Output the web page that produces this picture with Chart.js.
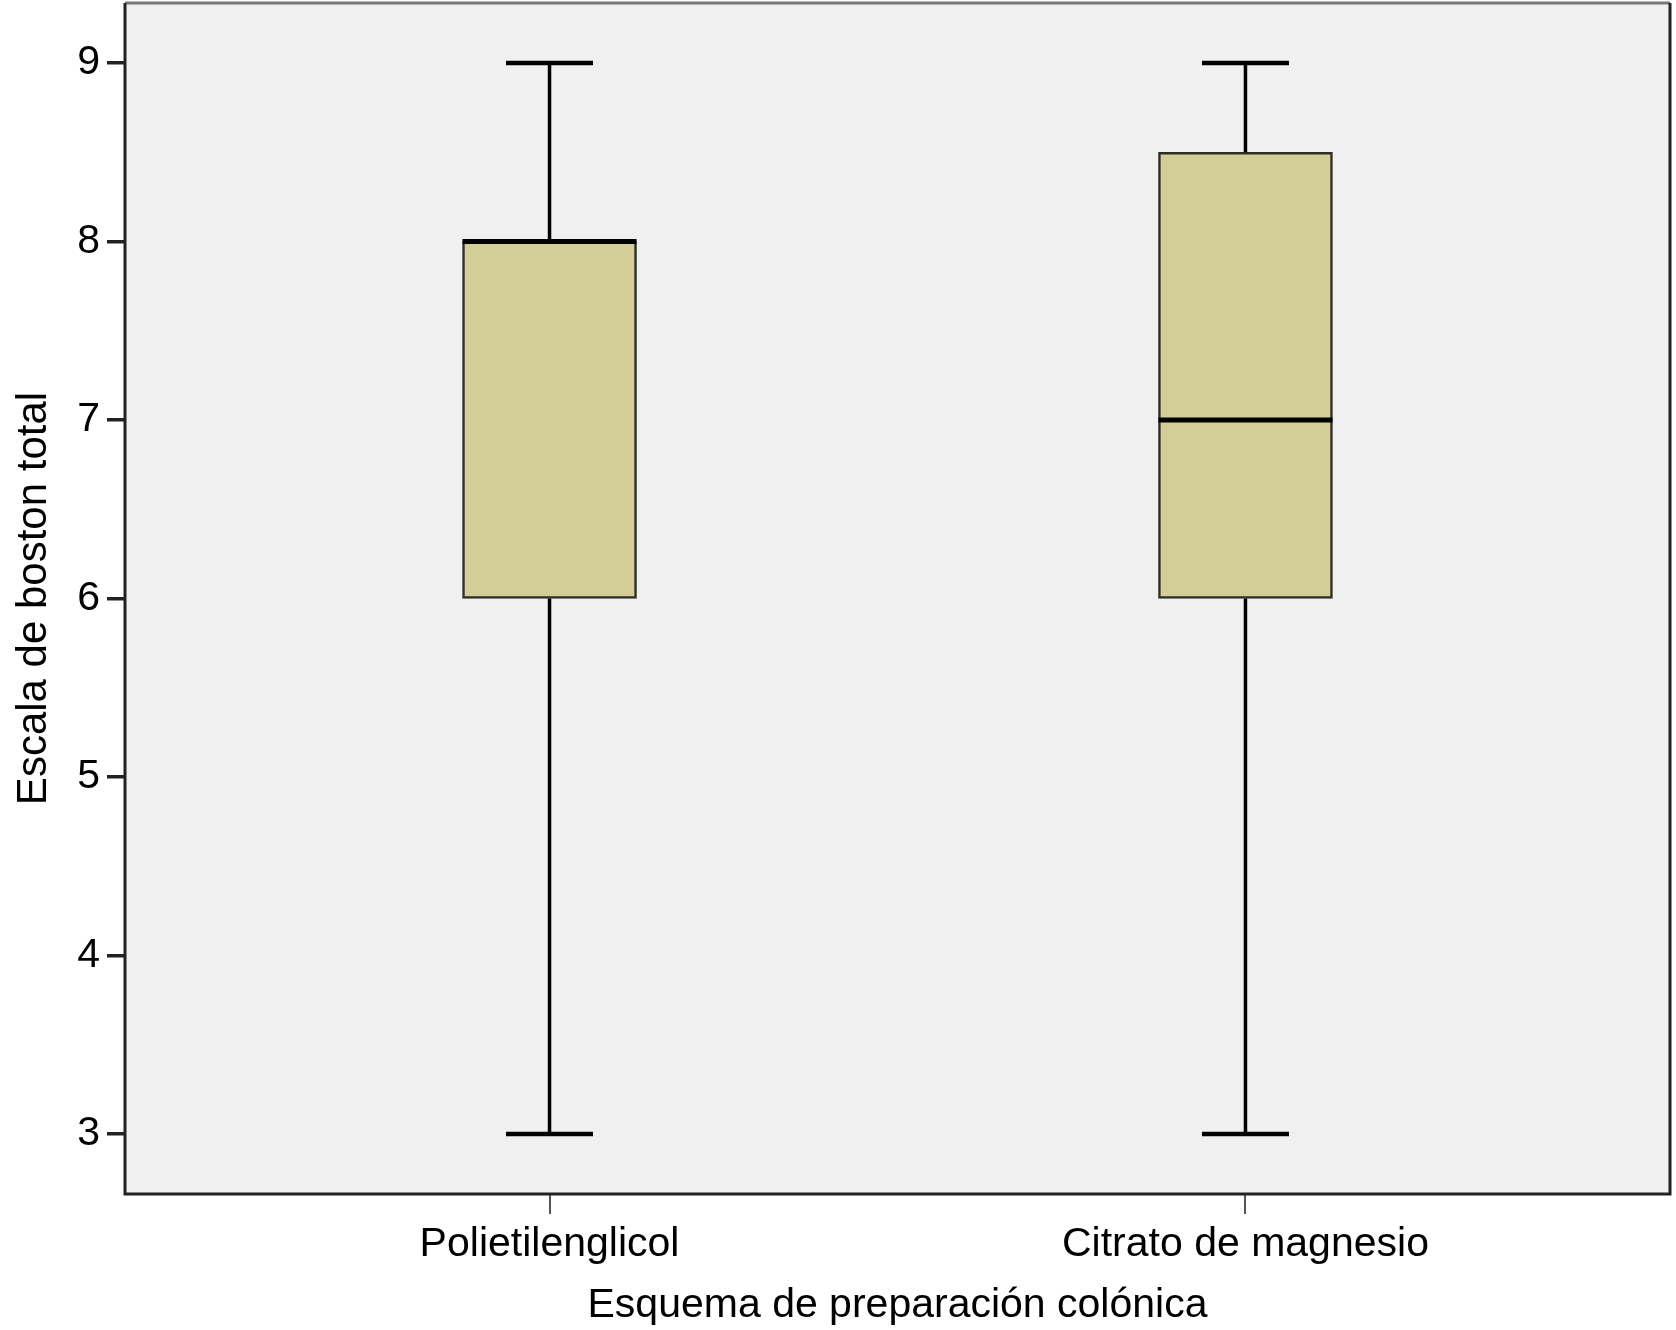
<!DOCTYPE html>
<html>
<head>
<meta charset="utf-8">
<script src="https://cdn.jsdelivr.net/npm/chart.js@4"></script>
<style>
html,body{margin:0;padding:0;background:#fff;}
#c{display:block;}
</style>
</head>
<body>
<canvas id="c" width="1676" height="1330"></canvas>
<script>
const categories = ['Polietilenglicol', 'Citrato de magnesio'];
const positions = [1, 2];
const mins = [3, 3];
const q1s = [6, 6];
const medians = [8, 7];
const q3s = [8, 8.5];
const maxs = [9, 9];
const yTicks = [3, 4, 5, 6, 7, 8, 9];

const FONT = "'Liberation Sans', Arial, Helvetica, sans-serif";

const boxPlugin = {
  id: 'boxExtras',
  beforeDatasetsDraw(chart) {
    const {ctx, chartArea: a} = chart;
    ctx.save();
    ctx.fillStyle = '#f0f0f0';
    ctx.fillRect(a.left, a.top, a.right - a.left, a.bottom - a.top);
    ctx.restore();
  },
  afterDatasetsDraw(chart) {
    const {ctx} = chart;
    const xs = chart.scales.x, ys = chart.scales.y;
    const meta = chart.getDatasetMeta(0);
    ctx.save();
    ctx.strokeStyle = '#000';
    ctx.lineCap = 'butt';
    positions.forEach((p, i) => {
      const cx = xs.getPixelForValue(p);
      const bw = meta.data[i].width;
      const capHalf = bw / 4;
      ctx.lineWidth = 3.5;
      ctx.beginPath();
      ctx.moveTo(cx, ys.getPixelForValue(q3s[i]));
      ctx.lineTo(cx, ys.getPixelForValue(maxs[i]));
      ctx.moveTo(cx, ys.getPixelForValue(q1s[i]));
      ctx.lineTo(cx, ys.getPixelForValue(mins[i]));
      ctx.stroke();
      ctx.lineWidth = 4.5;
      ctx.beginPath();
      ctx.moveTo(cx - capHalf, ys.getPixelForValue(maxs[i]));
      ctx.lineTo(cx + capHalf, ys.getPixelForValue(maxs[i]));
      ctx.moveTo(cx - capHalf, ys.getPixelForValue(mins[i]));
      ctx.lineTo(cx + capHalf, ys.getPixelForValue(mins[i]));
      ctx.stroke();
      ctx.lineWidth = 5;
      ctx.beginPath();
      ctx.moveTo(cx - bw / 2, ys.getPixelForValue(medians[i]));
      ctx.lineTo(cx + bw / 2, ys.getPixelForValue(medians[i]));
      ctx.stroke();
    });
    ctx.restore();
  },
  afterDraw(chart) {
    const {ctx, chartArea: a} = chart;
    ctx.save();
    ctx.strokeStyle = '#777';
    ctx.lineWidth = 3;
    ctx.beginPath();
    ctx.moveTo(a.left, a.top);
    ctx.lineTo(a.right, a.top);
    ctx.stroke();
    ctx.strokeStyle = '#222';
    ctx.lineWidth = 3;
    ctx.beginPath();
    ctx.moveTo(a.right, a.top);
    ctx.lineTo(a.right, a.bottom);
    ctx.lineTo(a.left, a.bottom);
    ctx.lineTo(a.left, a.top);
    ctx.stroke();
    ctx.restore();
  }
};

new Chart(document.getElementById('c'), {
  type: 'bar',
  data: {
    datasets: [{
      data: positions.map((p, i) => ({x: p, y: [q1s[i], q3s[i]]})),
      backgroundColor: '#d3ce98',
      borderColor: '#2e2e26',
      borderWidth: 2.5,
      borderSkipped: false,
      barThickness: 174
    }]
  },
  options: {
    responsive: false,
    devicePixelRatio: 1,
    animation: false,
    layout: {padding: {top: 3, right: 6, left: 0, bottom: 0}},
    plugins: {legend: {display: false}, tooltip: {enabled: false}},
    scales: {
      x: {
        type: 'linear',
        offset: false,
        min: 0.39,
        max: 2.61,
        afterBuildTicks(scale) { scale.ticks = positions.map(v => ({value: v})); },
        afterFit(scale) { scale.height = 136; scale.paddingLeft = 0; scale.paddingRight = 0; },
        ticks: {
          autoSkip: false,
          maxRotation: 0,
          padding: 6,
          color: '#000',
          font: {family: FONT, size: 41},
          callback(value) {
            const idx = positions.indexOf(value);
            return idx >= 0 ? categories[idx] : '';
          }
        },
        grid: {offset: false, drawOnChartArea: false, drawTicks: true, tickLength: 20, tickColor: '#555', tickWidth: 2, lineWidth: 2},
        border: {display: false},
        title: {display: true, text: 'Esquema de preparación colónica', color: '#000',
          font: {family: FONT, size: 41}, padding: {top: 0, bottom: 0}}
      },
      y: {
        type: 'linear',
        min: 2.664,
        max: 9.336,
        afterBuildTicks(scale) { scale.ticks = yTicks.map(v => ({value: v})); },
        afterFit(scale) { scale.width = 125; scale.paddingTop = 0; scale.paddingBottom = 0; },
        ticks: {
          padding: 7,
          color: '#000',
          font: {family: FONT, size: 41},
          callback(value) { return String(value); }
        },
        grid: {drawOnChartArea: false, drawTicks: true, tickLength: 18, tickColor: '#222', tickWidth: 3.5, lineWidth: 3.5},
        border: {display: false},
        title: {display: true, text: 'Escala de boston total', color: '#000',
          font: {family: FONT, size: 42}, padding: {top: 9, bottom: 0}}
      }
    }
  },
  plugins: [boxPlugin]
});
</script>
</body>
</html>
